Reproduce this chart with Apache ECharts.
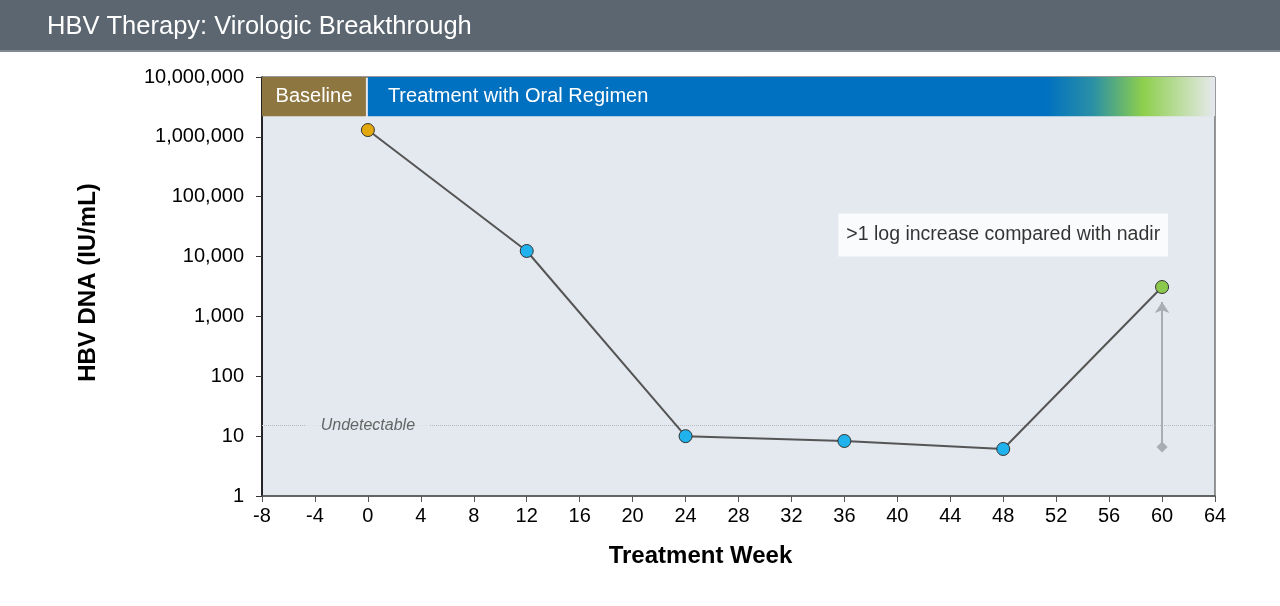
<!DOCTYPE html>
<html>
<head>
<meta charset="utf-8">
<script src="https://cdn.jsdelivr.net/npm/echarts@6/dist/echarts.min.js"></script>
<style>
html, body { margin: 0; padding: 0; background: #fff; }
#main { width: 1280px; height: 606px; }
</style>
</head>
<body>
<div id="main"></div>
<script>
// 数据
var weeks = [0, 12, 24, 36, 48, 60];
var hbvDna = [1300000, 12400, 10, 8.3, 6.1, 3100];
var pointColors = ['#e3a90c', '#1fb2ec', '#1fb2ec', '#1fb2ec', '#1fb2ec', '#8cc84b'];
var undetectable = 15;
var nadir = 6.6;
var arrowTop = 1750;
var bandTop = 10000000;
var bandBottom = 2200000;
var bandLabels = ['Baseline', 'Treatment with Oral Regimen'];
var noteText = '>1 log increase compared with nadir';

var font = 'Arial, "Liberation Sans", Helvetica, sans-serif';
var chart = echarts.init(document.getElementById('main'));

chart.setOption({
    animation: false,
    textStyle: { fontFamily: font },
    graphic: [
        { type: 'rect', left: 0, top: 0, shape: { width: 1280, height: 52 }, style: { fill: '#5b6670' }, z: 10 },
        { type: 'rect', left: 0, top: 50, shape: { width: 1280, height: 2 }, style: { fill: '#808a93' }, z: 10 },
        {
            type: 'text', left: 47, top: 14, z: 11,
            style: { text: 'HBV Therapy: Virologic Breakthrough', fill: '#fff', font: '25.5px ' + font }
        }
    ],
    grid: {
        left: 262, right: 65, top: 77, bottom: 110,
        show: true,
        backgroundColor: '#e4e8ef',
        borderColor: '#333',
        borderWidth: 1
    },
    xAxis: {
        type: 'value',
        min: -8, max: 64, interval: 4,
        name: 'Treatment Week',
        nameLocation: 'middle',
        nameGap: 48,
        nameTextStyle: { fontSize: 24, fontWeight: 'bold', color: '#000', padding: [0, 76, 0, 0] },
        axisLine: { onZero: false, lineStyle: { color: '#555', width: 1.5 } },
        axisTick: { show: true, length: 6, lineStyle: { color: '#555' } },
        axisLabel: { fontSize: 20, color: '#000', margin: 10 },
        splitLine: { show: false }
    },
    yAxis: {
        type: 'log',
        logBase: 10,
        min: 1, max: 10000000, interval: 1,
        name: 'HBV DNA (IU/mL)',
        nameLocation: 'middle',
        nameGap: 162,
        nameTextStyle: { fontSize: 24, fontWeight: 'bold', color: '#000', padding: [0, 0, 0, 8] },
        axisLine: { show: true, onZero: false, lineStyle: { color: '#000', width: 1.5 } },
        axisTick: { show: true, length: 6, lineStyle: { color: '#333' } },
        axisLabel: {
            fontSize: 20, color: '#000', margin: 18,
            formatter: function (v) { return Math.round(v).toLocaleString('en-US'); }
        },
        splitLine: { show: false },
        minorTick: { show: false }
    },
    series: [
        {
            name: 'bands',
            type: 'line',
            data: [],
            markArea: {
                silent: true,
                data: [
                    [
                        {
                            xAxis: -8, yAxis: bandTop,
                            itemStyle: { color: '#8e7641' },
                            label: { show: true, position: 'inside', color: '#fff', fontSize: 20, formatter: bandLabels[0] }
                        },
                        { xAxis: -0.15, yAxis: bandBottom }
                    ],
                    [
                        {
                            xAxis: 0, yAxis: bandTop,
                            itemStyle: {
                                color: new echarts.graphic.LinearGradient(0, 0, 1, 0, [
                                    { offset: 0, color: '#0070c0' },
                                    { offset: 0.80, color: '#0070c0' },
                                    { offset: 0.855, color: '#2a8fa6' },
                                    { offset: 0.915, color: '#8dcf4c' },
                                    { offset: 0.99, color: '#dde6da' },
                                    { offset: 1, color: '#e4e8ef' }
                                ])
                            },
                            label: { show: true, position: 'insideLeft', distance: 20, color: '#fff', fontSize: 20, formatter: bandLabels[1] }
                        },
                        { xAxis: 64, yAxis: bandBottom }
                    ]
                ]
            }
        },
        {
            name: 'undetectable',
            type: 'scatter',
            symbolSize: 0,
            data: [[0, undetectable]],
            z: 3,
            label: {
                show: true,
                position: 'inside',
                formatter: 'Undetectable',
                fontSize: 16,
                fontStyle: 'italic',
                color: '#444',
                backgroundColor: '#e4e8ef',
                padding: [2, 15]
            },
            markLine: {
                silent: true,
                symbol: 'none',
                label: { show: false },
                lineStyle: { color: '#b4b8bd', type: 'dotted', width: 1 },
                data: [[{ coord: [-8, undetectable] }, { coord: [64, undetectable] }]],
                z: 1
            }
        },
        {
            name: 'arrow',
            type: 'line',
            data: [],
            markLine: {
                silent: true,
                symbol: ['diamond', 'arrow'],
                symbolSize: [11, 11],
                label: { show: false },
                lineStyle: { color: '#a9acb0', type: 'solid', width: 2 },
                data: [[{ coord: [60, nadir] }, { coord: [60, arrowTop] }]]
            }
        },
        {
            name: 'note',
            type: 'scatter',
            symbolSize: 0,
            data: [[48, 23000]],
            label: {
                show: true,
                position: 'inside',
                formatter: noteText,
                fontSize: 19.5,
                color: '#000',
                backgroundColor: '#fff',
                padding: [12, 8, 11, 8]
            }
        },
        {
            name: 'HBV DNA',
            type: 'line',
            data: weeks.map(function (w, i) {
                return { value: [w, hbvDna[i]], itemStyle: { color: pointColors[i] } };
            }),
            symbol: 'circle',
            symbolSize: 13,
            lineStyle: { color: '#555', width: 2 },
            itemStyle: { borderColor: '#333', borderWidth: 1 },
            z: 5
        }
    ]
});
</script>
</body>
</html>
